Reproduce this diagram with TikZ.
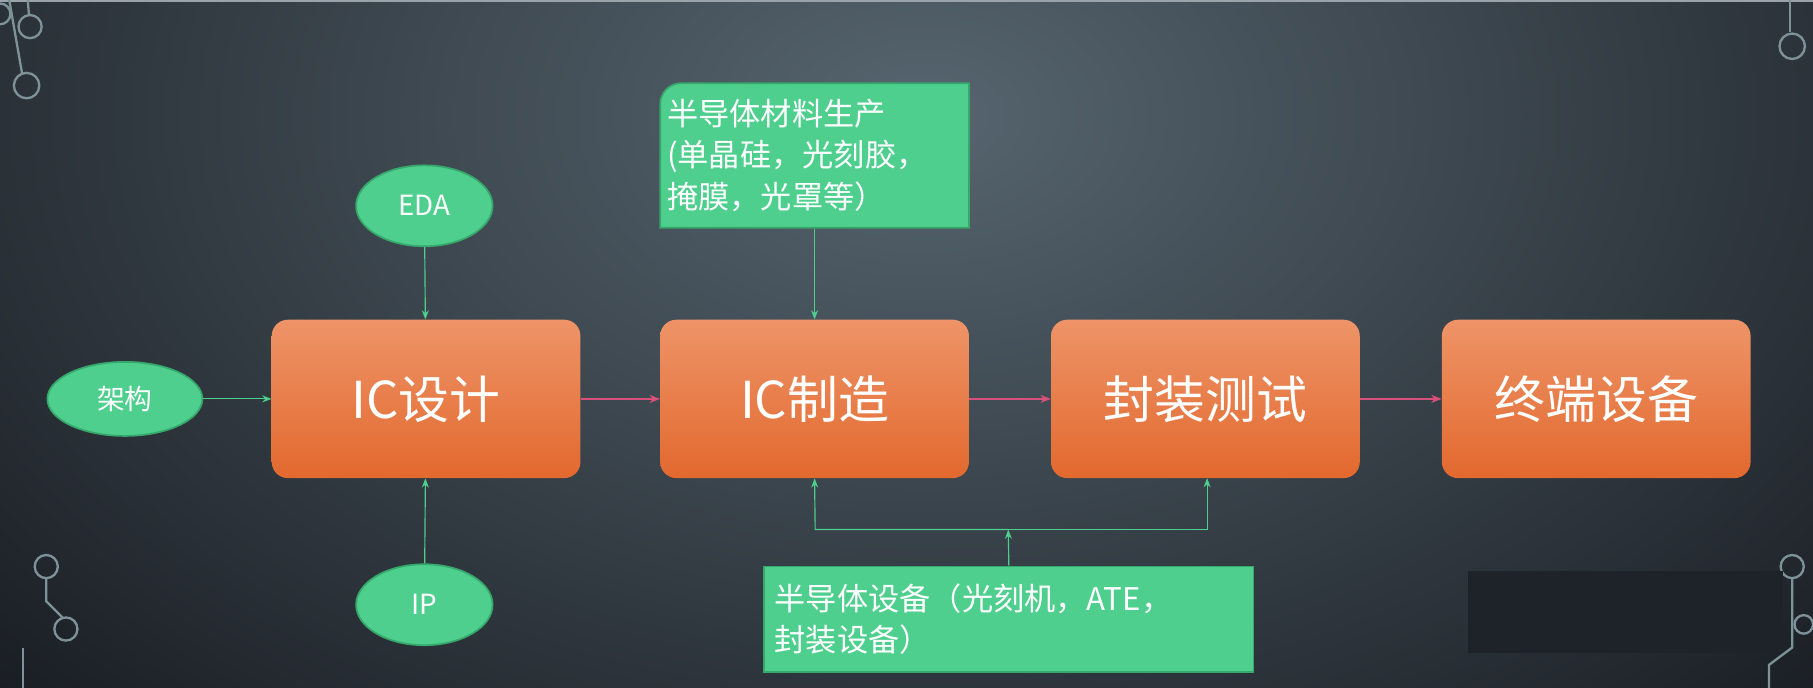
\documentclass[tikz,border=0pt]{standalone}
\usepackage{fontspec}
\setmainfont{Noto Sans CJK SC}
\usetikzlibrary{shapes.geometric,arrows.meta}
\definecolor{orT}{HTML}{EE9468}
\definecolor{orB}{HTML}{E2692E}
\definecolor{gr}{HTML}{4ECF8E}
\definecolor{grd}{HTML}{36A86C}
\definecolor{pk}{HTML}{D9507C}
\definecolor{deco}{HTML}{7E929A}
\definecolor{bgA}{HTML}{56656F}
\definecolor{bgB}{HTML}{14171C}
\tikzset{
  orbox/.style={rounded corners=14pt,top color=orT,bottom color=orB,draw=none,minimum width=267pt,minimum height=137pt,text=white,font=\fontsize{44}{48}\selectfont},
  ell/.style={ellipse,fill=gr,draw=grd,line width=1.5pt,minimum width=134pt,minimum height=64pt,text=white,font=\fontsize{24}{28}\selectfont},
  grbox/.style={fill=gr,draw=grd,line width=1.5pt,text=white,align=left,font=\fontsize{27}{36}\selectfont},
  garr/.style={draw=gr,line width=1pt,-{Stealth[length=8pt,width=6pt]}},
  parr/.style={draw=pk,line width=1.5pt,-{Stealth[length=9pt,width=7pt]}},
  dec/.style={draw=deco,line width=2pt}
}
\begin{document}
\begin{tikzpicture}[x=1pt,y=-1pt]
\useasboundingbox (0,0) rectangle (1568,595);
\shade[inner color=bgA,outer color=bgB] (-400,-700) rectangle (2000,900);
\fill[bgA!60!white] (0,0) rectangle (1568,2);
% decorations
\draw[dec] (8,0)--(19,63); \draw[dec] (23,74) circle (11);
\draw[dec] (24,0)--(25,12); \draw[dec] (26,23) circle (10);
\draw[dec] (0,12) circle (9);
\draw[dec] (1548,0)--(1548,28); \draw[dec] (1550,40) circle (11);
\draw[dec] (40,490) circle (10); \draw[dec] (40,500)--(40,520)--(55,535); \draw[dec] (57,544) circle (10);
\draw[dec] (20,560)--(20,595);
\draw[dec] (1550,490) circle (10); \draw[dec] (1550,500)--(1550,560)--(1530,575)--(1530,595);
\draw[dec] (1560,540) circle (8);
\fill[bgB!85!bgA] (1270,494) rectangle (1542,565);
% top green box shape (rounded top-left corner)
\path[fill=gr,draw=grd,line width=1.5pt] (571,197) [rounded corners=18pt]-- (571,72) [sharp corners]-- (838,72) -- (838,197) -- cycle;
% nodes
\node[orbox] (d) at (368.5,345) {IC设计};
\node[orbox] (m) at (704.5,345) {IC制造};
\node[orbox] (p) at (1042.5,345) {封装测试};
\node[orbox] (t) at (1380.5,345) {终端设备};
\node[ell] (a) at (108,345) {架构};
\node[ell,minimum width=118pt,minimum height=70pt] (e) at (367,178) {EDA};
\node[ell,minimum width=118pt,minimum height=70pt] (i) at (367,523) {IP};
\node[grbox,fill=none,draw=none,minimum width=267pt,minimum height=125pt,text width=255pt,inner sep=4pt] (s) at (704.5,134.5) {半导体材料生产\\(单晶硅，光刻胶，\\掩膜，光罩等）};
\node[grbox,minimum width=423pt,minimum height=91pt,text width=405pt,inner sep=6pt] (q) at (872.5,535.5) {半导体设备（光刻机，ATE，\\封装设备）};
\coordinate (j) at (872,458);
% connectors
\draw[garr] (a) -- (d);
\draw[garr] (e) -- (d);
\draw[garr] (i) -- (d);
\draw[garr] (s) -- (m);
\draw[parr] (d) -- (m);
\draw[parr] (m) -- (p);
\draw[parr] (p) -- (t);
\draw[garr] (j) -- (705,458) -- (m.south);
\draw[garr] (j) -- (1044,458) -- (1044,413.5);
\draw[garr] (q.north) -- (j);
\end{tikzpicture}
\end{document}
